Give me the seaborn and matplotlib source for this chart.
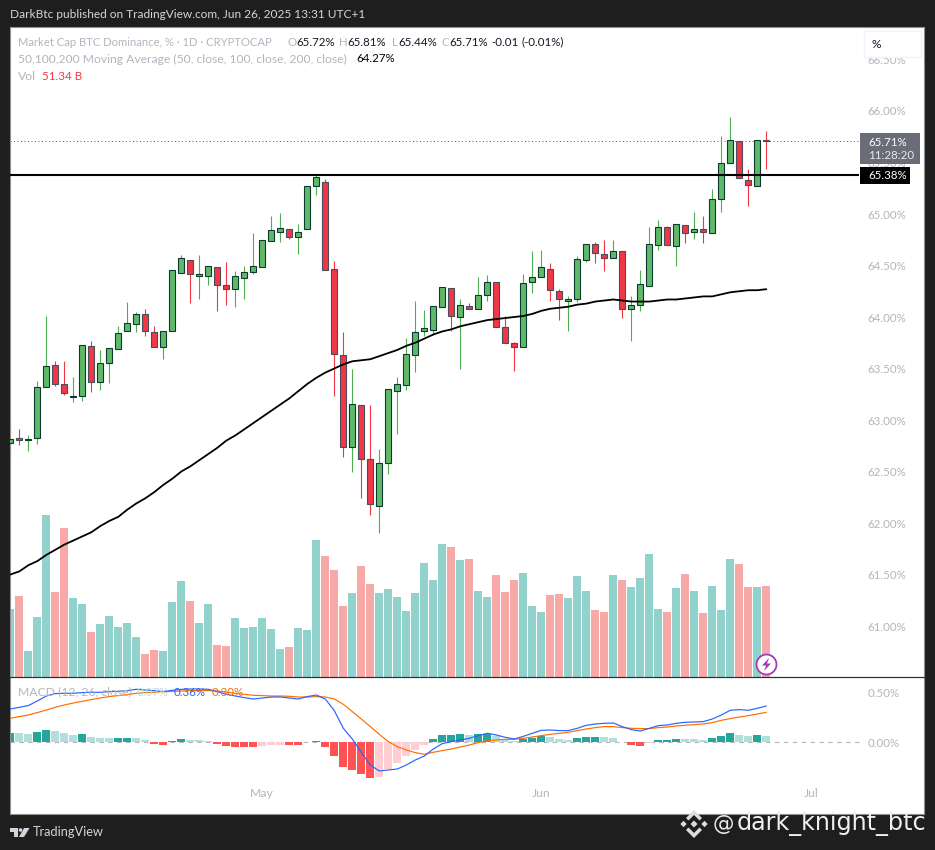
import matplotlib
matplotlib.use("Agg")
import matplotlib.pyplot as plt
from matplotlib.patches import Rectangle, Circle, Polygon
from matplotlib.transforms import Affine2D
import numpy as np
import pandas as pd
import seaborn as sns

opens = [62.78,62.83,62.81,62.83,63.32,63.53,63.35,63.22,63.23,63.72,
         63.37,63.55,63.69,63.86,63.93,64.03,63.85,63.71,63.86,64.43,
         64.55,64.40,64.40,64.49,64.31,64.27,64.38,64.44,64.49,64.74,
         64.83,64.85,64.78,64.85,65.27,65.31,64.47,63.63,62.74,63.15,
         62.62,62.17,62.58,63.28,63.34,63.63,63.86,63.87,64.10,64.28,
         64.00,64.11,64.08,64.21,64.34,63.90,63.75,63.71,64.34,64.39,
         64.47,64.25,64.16,64.17,64.55,64.71,64.61,64.57,64.64,64.08,
         64.12,64.30,64.70,64.87,64.69,64.89,64.83,64.85,64.82,65.15,
         65.50,65.71,65.33,65.27,65.72]
closes = [62.82,62.81,62.82,63.32,63.52,63.35,63.26,63.23,63.73,63.37,
          63.55,63.70,63.84,63.94,64.03,63.86,63.71,63.86,64.46,64.57,
          64.42,64.42,64.50,64.31,64.27,64.40,64.44,64.50,64.75,64.84,
          64.86,64.78,64.83,65.27,65.36,64.46,63.64,62.74,63.16,62.62,
          62.18,62.58,63.30,63.35,63.64,63.85,63.89,64.11,64.29,64.01,
          64.12,64.08,64.21,64.34,63.90,63.75,63.71,64.33,64.39,64.49,
          64.26,64.17,64.17,64.56,64.71,64.62,64.57,64.64,64.08,64.12,
          64.32,64.71,64.87,64.70,64.90,64.82,64.85,64.83,65.15,65.50,
          65.72,65.35,65.28,65.72,65.71]
highs = [63.00,62.91,62.85,63.38,64.01,63.57,63.57,63.42,63.73,63.77,
         63.68,63.70,63.91,64.15,64.05,64.08,63.91,63.86,64.46,64.60,
         64.55,64.60,64.50,64.49,64.53,64.45,64.50,64.82,64.75,64.98,
         65.01,64.85,64.90,65.27,65.39,65.34,64.54,63.85,63.50,63.15,
         63.15,62.72,63.30,63.42,63.80,64.16,64.07,64.11,64.29,64.28,
         64.17,64.14,64.39,64.41,64.34,64.01,63.76,64.42,64.64,64.65,
         64.52,64.27,64.20,64.59,64.71,64.73,64.75,64.75,64.64,64.20,
         64.46,64.87,64.94,64.88,64.90,64.89,65.02,64.98,65.24,65.76,
         65.94,65.71,65.44,65.72,65.81]
lows = [62.62,62.76,62.70,62.77,63.32,63.33,63.24,63.17,63.18,63.27,
        63.29,63.36,63.69,63.86,63.85,63.82,63.71,63.59,63.86,64.43,
        64.14,64.17,64.31,64.06,64.12,64.10,64.17,64.42,64.49,64.74,
        64.73,64.76,64.61,64.85,65.18,64.46,63.23,62.64,62.50,62.24,
        62.08,61.90,62.48,62.86,63.29,63.47,63.82,63.83,64.10,63.86,
        63.50,64.08,64.08,64.16,63.90,63.75,63.48,63.71,64.23,64.39,
        64.16,63.97,63.86,64.15,64.53,64.52,64.45,64.57,63.99,63.77,
        64.06,64.30,64.65,64.70,64.50,64.72,64.76,64.72,64.82,65.02,
        65.50,65.35,65.08,65.27,65.44]
volumes = [38.4,45.7,14.7,33.8,91.4,47.9,84.0,44.6,41.2,25.4,
           29.9,34.4,28.2,30.5,22.6,13.0,15.2,14.7,42.3,54.1,
           42.9,30.5,41.2,18.0,17.5,33.3,27.6,28.2,33.3,27.1,
           15.8,16.9,27.6,26.5,77.3,68.2,60.3,40.0,47.4,62.6,
           52.5,47.4,49.6,45.1,37.2,47.4,64.3,54.7,75.0,73.3,
           66.0,66.6,48.5,45.1,57.5,47.9,54.7,58.7,40.0,36.7,
           46.2,46.8,44.6,57.0,48.5,37.8,36.7,57.5,54.7,50.8,
           55.8,69.4,38.4,36.7,50.2,58.1,48.5,36.1,51.3,37.8,
           66.6,63.7,50.8,50.8,51.34]
moving_average = [61.50,61.53,61.59,61.63,61.69,61.74,61.79,61.83,61.87,61.91,
                  61.97,62.02,62.06,62.13,62.19,62.24,62.30,62.37,62.43,62.50,
                  62.55,62.61,62.67,62.73,62.80,62.85,62.91,62.97,63.03,63.09,
                  63.15,63.21,63.28,63.35,63.41,63.46,63.50,63.54,63.57,63.58,
                  63.59,63.62,63.65,63.68,63.72,63.75,63.79,63.83,63.86,63.88,
                  63.91,63.93,63.95,63.97,63.98,63.99,64.00,64.01,64.03,64.06,
                  64.08,64.09,64.10,64.12,64.13,64.15,64.16,64.17,64.16,64.15,
                  64.15,64.15,64.16,64.17,64.17,64.18,64.19,64.20,64.20,64.22,
                  64.24,64.25,64.26,64.26,64.27]
macd_line = [0.333,0.350,0.367,0.413,0.463,0.487,0.490,0.490,0.497,0.500,
             0.500,0.507,0.510,0.517,0.530,0.523,0.517,0.507,0.520,0.530,
             0.533,0.533,0.530,0.507,0.480,0.463,0.447,0.433,0.443,0.453,
             0.453,0.443,0.433,0.457,0.473,0.433,0.317,0.140,0.033,-0.100,
             -0.227,-0.287,-0.277,-0.267,-0.227,-0.177,-0.137,-0.067,-0.013,0.007,
             0.023,0.040,0.067,0.090,0.073,0.050,0.033,0.060,0.090,0.120,
             0.123,0.117,0.117,0.140,0.170,0.183,0.190,0.193,0.157,0.127,
             0.113,0.140,0.167,0.173,0.190,0.200,0.203,0.207,0.233,0.273,
             0.320,0.327,0.320,0.340,0.363]
signal_line = [0.240,0.257,0.273,0.297,0.323,0.350,0.373,0.393,0.410,0.427,
               0.443,0.457,0.467,0.477,0.490,0.497,0.500,0.507,0.510,0.513,
               0.517,0.517,0.517,0.513,0.503,0.490,0.480,0.470,0.467,0.463,
               0.463,0.460,0.453,0.453,0.457,0.453,0.433,0.380,0.307,0.233,
               0.157,0.080,0.007,-0.043,-0.077,-0.103,-0.120,-0.100,-0.083,-0.067,
               -0.047,-0.027,-0.003,0.017,0.023,0.030,0.030,0.040,0.053,0.067,
               0.080,0.090,0.100,0.117,0.133,0.147,0.157,0.157,0.147,0.140,
               0.137,0.137,0.147,0.153,0.163,0.170,0.177,0.183,0.197,0.220,
               0.237,0.253,0.267,0.283,0.300]
macd_hist = [0.093,0.093,0.083,0.103,0.123,0.113,0.093,0.073,0.083,0.053,
             0.043,0.043,0.043,0.043,0.043,0.023,-0.017,-0.027,0.013,0.033,
             0.023,0.023,0.013,-0.017,-0.037,-0.047,-0.047,-0.047,-0.037,-0.027,
             -0.027,-0.027,-0.027,0.003,0.013,-0.047,-0.137,-0.247,-0.277,-0.317,
             -0.357,-0.347,-0.267,-0.207,-0.137,-0.077,-0.027,0.033,0.073,0.073,
             0.083,0.073,0.083,0.083,0.063,0.033,0.013,0.033,0.043,0.063,
             0.053,0.033,0.023,0.043,0.053,0.053,0.053,0.043,0.007,-0.027,
             -0.037,-0.007,0.023,0.023,0.033,0.033,0.033,0.023,0.043,0.063,
             0.093,0.073,0.063,0.073,0.063]
# s = strong histogram shade, w = weak histogram shade, one letter per bar
hist_shade = ("swwsswwwswwwsswwssss"
              "wwwssssswwwsssssssss"
              "swwwwwwssssw" "sswwwsss"
              "wwwssswwwsswssswwwss"
              "swwsw")

price_ticks = [61.0,61.5,62.0,62.5,63.0,63.5,64.0,64.5,65.0,65.5,66.0,66.5]
macd_ticks = [0.0,0.5]
month_labels = ["May","Jun","Jul"]
month_bars = [28,59,89]
resistance = 65.38
last_price = 65.71

W, H = 935, 850
BG = "#1e1e1e"
sns.set_theme(style="white")
plt.rcParams["font.family"] = ["Lato", "DejaVu Sans"]

UP_FILL, UP_EDGE, UP_WICK = "#5fb968", "#0b3b2e", "#4caf50"
DN_FILL, DN_EDGE, DN_WICK = "#f23645", "#4a4e5c", "#f23645"
GRAY = "#b2b5be"
NUM = 8.3

fig = plt.figure(figsize=(W/100, H/100), dpi=100, facecolor=BG)

def rect(l, t, r, b):
    return [l/W, 1-b/H, (r-l)/W, (b-t)/H]

ax_vol = fig.add_axes(rect(10, 27, 924, 677), facecolor="white", zorder=1)
ax = fig.add_axes(rect(10, 27, 924, 677), facecolor="none", zorder=2)
ax_m = fig.add_axes(rect(10, 677, 924, 814), facecolor="white", zorder=1)

idx = np.arange(len(opens))
XLIM = (-0.033, 101.52)
o, h, l, c = map(np.array, (opens, highs, lows, closes))
up = c >= o

# volume
vol_df = pd.DataFrame({"bar": idx, "vol": volumes,
                       "dir": np.where(up, "up", "down")})
sns.barplot(data=vol_df, x="bar", y="vol", hue="dir",
            palette={"up": "#92d2cc", "down": "#f7a9a7"}, native_scale=True,
            dodge=False, width=0.89, saturation=1, legend=False, errorbar=None,
            linewidth=0, ax=ax_vol)
ax_vol.set_xlim(*XLIM)
ax_vol.set_ylim(0, 366.6)
ax_vol.set_xticks([]); ax_vol.set_yticks([])
ax_vol.set_xlabel(""); ax_vol.set_ylabel("")
sns.despine(ax=ax_vol, left=True, bottom=True)

# candles
ax.vlines(idx[up], l[up], h[up], color=UP_WICK, lw=0.8, zorder=2)
ax.vlines(idx[~up], l[~up], h[~up], color=DN_WICK, lw=0.8, zorder=2)
ax.bar(idx[up], (c-o)[up], bottom=o[up], width=0.667, color=UP_FILL,
       edgecolor=UP_EDGE, linewidth=0.8, zorder=3)
ax.bar(idx[~up], (o-c)[~up], bottom=c[~up], width=0.667, color=DN_FILL,
       edgecolor=DN_EDGE, linewidth=0.8, zorder=3)
sns.lineplot(x=idx, y=moving_average, color="black", lw=1.3, ax=ax, zorder=4, errorbar=None)
ax.hlines(resistance, 0, 0.929, transform=ax.get_yaxis_transform(), color="black", lw=1.5, zorder=5)
ax.hlines(last_price, 0, 0.929, transform=ax.get_yaxis_transform(), color="#555555",
          lw=0.7, linestyles=(0, (1, 2.6)), zorder=1)
ax.set_xlim(*XLIM)
ax.set_ylim(60.505, 66.8155)
ax.set_xticks([])
ax.yaxis.tick_right()
ax.set_yticks(price_ticks)
ax.set_yticklabels([f"{t:.2f}%" for t in price_ticks])
ax.tick_params(axis="y", length=0, pad=-40.5, labelsize=NUM, labelcolor=GRAY)

# MACD
hist_df = pd.DataFrame({"bar": idx, "val": macd_hist,
                        "kind": [("p" if v >= 0 else "n") + s for v, s in zip(macd_hist, hist_shade)]})
ax_m.axhline(0, xmax=0.929, color=GRAY, lw=0.8, ls=(0, (4, 4)), zorder=0)
sns.barplot(data=hist_df, x="bar", y="val", hue="kind",
            palette={"ps": "#26a69a", "pw": "#b2dfdb", "ns": "#ff5252", "nw": "#ffcdd2"},
            native_scale=True, dodge=False, width=0.89, saturation=1, legend=False,
            errorbar=None, linewidth=0, ax=ax_m, zorder=1)
sns.lineplot(x=idx, y=signal_line, color="#ff6d00", lw=0.85, ax=ax_m, zorder=3, errorbar=None)
sns.lineplot(x=idx, y=macd_line, color="#2962ff", lw=0.85, ax=ax_m, zorder=4, errorbar=None)
ax_m.set_xlim(*XLIM)
ax_m.set_ylim(-0.717, 0.653)
ax_m.set_xlabel(""); ax_m.set_ylabel("")
ax_m.yaxis.tick_right()
ax_m.set_yticks(macd_ticks)
ax_m.set_yticklabels([f"{t:.2f}%" for t in macd_ticks])
ax_m.tick_params(axis="y", length=0, pad=-40.5, labelsize=NUM, labelcolor=GRAY)
ax_m.set_xticks(month_bars)
ax_m.set_xticklabels(month_labels)
ax_m.tick_params(axis="x", length=0, pad=-19, labelsize=8.8, labelcolor=GRAY)

for a in (ax, ax_m):
    for s in a.spines.values():
        s.set_color("#8f8f8f"); s.set_linewidth(0.8)
ax.spines["bottom"].set_color("#2f2f2f")
ax_m.spines["top"].set_color("#2f2f2f")

# pixel-space decorations
px = Affine2D().scale(1, -1).translate(0, H)

def txt(x, y, s, color=GRAY, size=8.75, ha="left", **kw):
    return fig.text(x/W, 1-y/H, s, color=color, fontsize=size, ha=ha, va="center", zorder=20, **kw)

def deco(p, z=15):
    p.set_transform(px); p.set_zorder(z); fig.add_artist(p)

txt(10, 15, "DarkBtc published on TradingView.com, Jun 26, 2025 13:31 UTC+1", "#d5d5d5", 8.55)
txt(18, 42, "Market Cap BTC Dominance, % · 1D · CRYPTOCAP", GRAY, 8.15)
for x, s, col in [(288, "O", GRAY), (296, "65.72%", "#131722"), (339, "H", GRAY), (347, "65.81%", "#131722"),
                  (392, "L", GRAY), (398, "65.44%", "#131722"), (441, "C", GRAY), (449, "65.71%", "#131722"),
                  (491, "-0.01", "#131722"), (522, "(-0.01%)", "#131722")]:
    txt(x, 42, s, col, NUM)
txt(18, 59, "50,100,200 Moving Average (50, close, 100, close, 200, close)", GRAY, 8.75)
txt(356, 59, "64.27%", "#000000", NUM)
txt(18, 76, "Vol", GRAY)
txt(42, 76, "51.34 B", "#f23645", NUM)
txt(18, 692, "MACD (12, 26, close)", GRAY, 8.7)
txt(137, 692, "0.07%", "#b2dfdb", NUM)
txt(174, 692, "0.36%", "#2962ff", NUM)
txt(212, 692, "0.30%", "#ff6d00", NUM)

deco(Rectangle((863.5, 31), 57, 26, fc="white", ec="#f0f3fa", lw=1))
txt(871, 44, "%", "#131722", 8.6)
deco(Rectangle((860, 133), 60, 31, fc="#6a6d78", ec="none"))
txt(868, 142, "65.71%", "white", NUM)
txt(868, 155.5, "11:28:20", "#e8e8e8", NUM)
deco(Rectangle((860, 167), 50, 17, fc="black", ec="none"))
txt(868, 175.5, "65.38%", "white", NUM)

# lightning badge
deco(Circle((766.5, 664.5), 10, fc="white", ec="#a33bb8", lw=1.3))
deco(Polygon([(769, 658), (762, 665.5), (766, 665.5), (764, 671), (771, 663.5), (767, 663.5)],
             closed=True, fc="#a33bb8", ec="none"), 16)

# TradingView mark
LOGO = "#d1d4dc"
deco(Rectangle((10, 828), 7.5, 3.5, fc=LOGO, ec="none"))
deco(Rectangle((14, 828), 3.5, 9, fc=LOGO, ec="none"))
deco(Circle((20.5, 830), 1.8, fc=LOGO, ec="none"))
deco(Polygon([(24, 828), (29.5, 828), (24, 837), (19, 837)], closed=True, fc=LOGO, ec="none"))
txt(33, 832, "TradingView", "#d1d4dc", 9.15)

# Binance mark
BN = "#dcdcdc"
cx, cy = 694, 824
def diamond(dx, dy, r):
    deco(Polygon([(cx+dx, cy+dy-r), (cx+dx+r, cy+dy), (cx+dx, cy+dy+r), (cx+dx-r, cy+dy)], closed=True, fc=BN, ec="none"))
diamond(0, 0, 3.5); diamond(-10.5, 0, 3.2); diamond(10.5, 0, 3.2)
deco(Polygon([(cx, cy-14), (cx+8, cy-6), (cx+5.5, cy-3.5), (cx, cy-9), (cx-5.5, cy-3.5), (cx-8, cy-6)], closed=True, fc=BN, ec="none"))
deco(Polygon([(cx, cy+14), (cx+8, cy+6), (cx+5.5, cy+3.5), (cx, cy+9), (cx-5.5, cy+3.5), (cx-8, cy+6)], closed=True, fc=BN, ec="none"))
txt(713, 824, "@", "#e8e8e8", 15.5, family="DejaVu Sans")
txt(737, 824, "dark_knight_btc", "#f0f0f0", 17.2, family="DejaVu Sans")

fig.savefig("out.png", dpi=100, facecolor=BG)
